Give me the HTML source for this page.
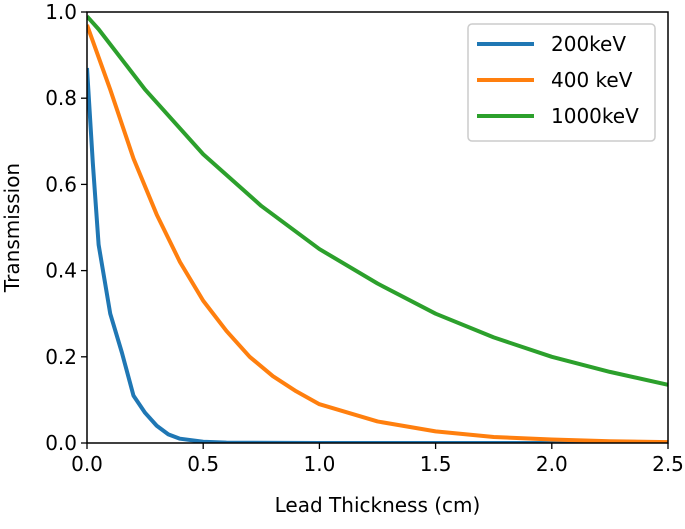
<!DOCTYPE html>
<html><head><meta charset="utf-8"><style>
body{margin:0;background:#fff}
svg{font-family:"DejaVu Sans","Liberation Sans",sans-serif}
</style></head><body>
<svg id="c" width="685" height="524"></svg>
<script>
const xTicks=[0,0.5,1.0,1.5,2.0,2.5];
const yTicks=[0,0.2,0.4,0.6,0.8,1.0];
const x200=[0,0.025,0.05,0.075,0.1,0.15,0.2,0.25,0.3,0.35,0.4,0.5,0.6,1.0,1.5,2.0,2.5];
const y200=[0.87,0.65,0.46,0.38,0.30,0.21,0.11,0.07,0.04,0.02,0.01,0.003,0.001,0,0,0,0];
const x400=[0,0.1,0.2,0.3,0.4,0.5,0.6,0.7,0.8,0.9,1.0,1.25,1.5,1.75,2.0,2.25,2.5];
const y400=[0.97,0.82,0.66,0.53,0.42,0.33,0.26,0.20,0.155,0.12,0.09,0.05,0.027,0.014,0.008,0.004,0.002];
const x1000=[0,0.05,0.25,0.5,0.75,1.0,1.25,1.5,1.75,2.0,2.25,2.5];
const y1000=[0.99,0.96,0.82,0.67,0.55,0.45,0.37,0.30,0.245,0.20,0.165,0.135];
const series=[["200keV","#1f77b4",x200,y200],["400 keV","#ff7f0e",x400,y400],["1000keV","#2ca02c",x1000,y1000]];
const L=87,R=668,T=12,B=443;
const sx=v=>L+(v-0)/2.5*(R-L), sy=v=>B-v*(B-T);
const svg=document.getElementById('c');const NS='http://www.w3.org/2000/svg';
function mk(t,a,p){const e=document.createElementNS(NS,t);for(const k in a)e.setAttribute(k,a[k]);(p||svg).appendChild(e);return e;}
const clip=mk('clipPath',{id:'cp'});mk('rect',{x:L,y:T,width:R-L,height:B-T},clip);
series.forEach(s=>{
 const p=mk('polyline',{points:s[2].map((x,i)=>sx(x)+','+sy(s[3][i])).join(' '),fill:'none',stroke:s[1],'stroke-width':4,'stroke-linejoin':'round','clip-path':'url(#cp)'});
 
 
});
const f=mk('rect',{x:L,y:T,width:R-L,height:B-T,fill:'none',stroke:'#000','stroke-width':1.5});

xTicks.forEach(v=>{const x=sx(v);mk('line',{x1:x,x2:x,y1:B,y2:B+6,stroke:'#000','stroke-width':1.3});
 const t=mk('text',{x:x,y:B+28,'text-anchor':'middle','font-size':20});t.textContent=v.toFixed(1);
 });
yTicks.forEach(v=>{const y=sy(v);mk('line',{x1:L-6,x2:L,y1:y,y2:y,stroke:'#000','stroke-width':1.3});
 const t=mk('text',{x:L-10,y:y+7,'text-anchor':'end','font-size':20});t.textContent=v.toFixed(1);
 });
const xt=mk('text',{x:(L+R)/2,y:512,'text-anchor':'middle','font-size':20});xt.textContent='Lead Thickness (cm)';

const yt=mk('text',{x:0,y:0,'text-anchor':'middle','font-size':20,transform:'translate(19,'+(T+B)/2+') rotate(-90)'});yt.textContent='Transmission';

const lg=mk('g',{});
mk('rect',{x:468,y:24,width:187,height:117,rx:4,fill:'#fff',stroke:'#ccc','stroke-width':1.5},lg);
series.forEach((s,i)=>{const y=44+i*36;
 mk('line',{x1:477,x2:534,y1:y,y2:y,stroke:s[1],'stroke-width':4},lg);
 const t=mk('text',{x:551,y:y+7,'font-size':20},lg);t.textContent=s[0];
 });
</script>
</body></html>
